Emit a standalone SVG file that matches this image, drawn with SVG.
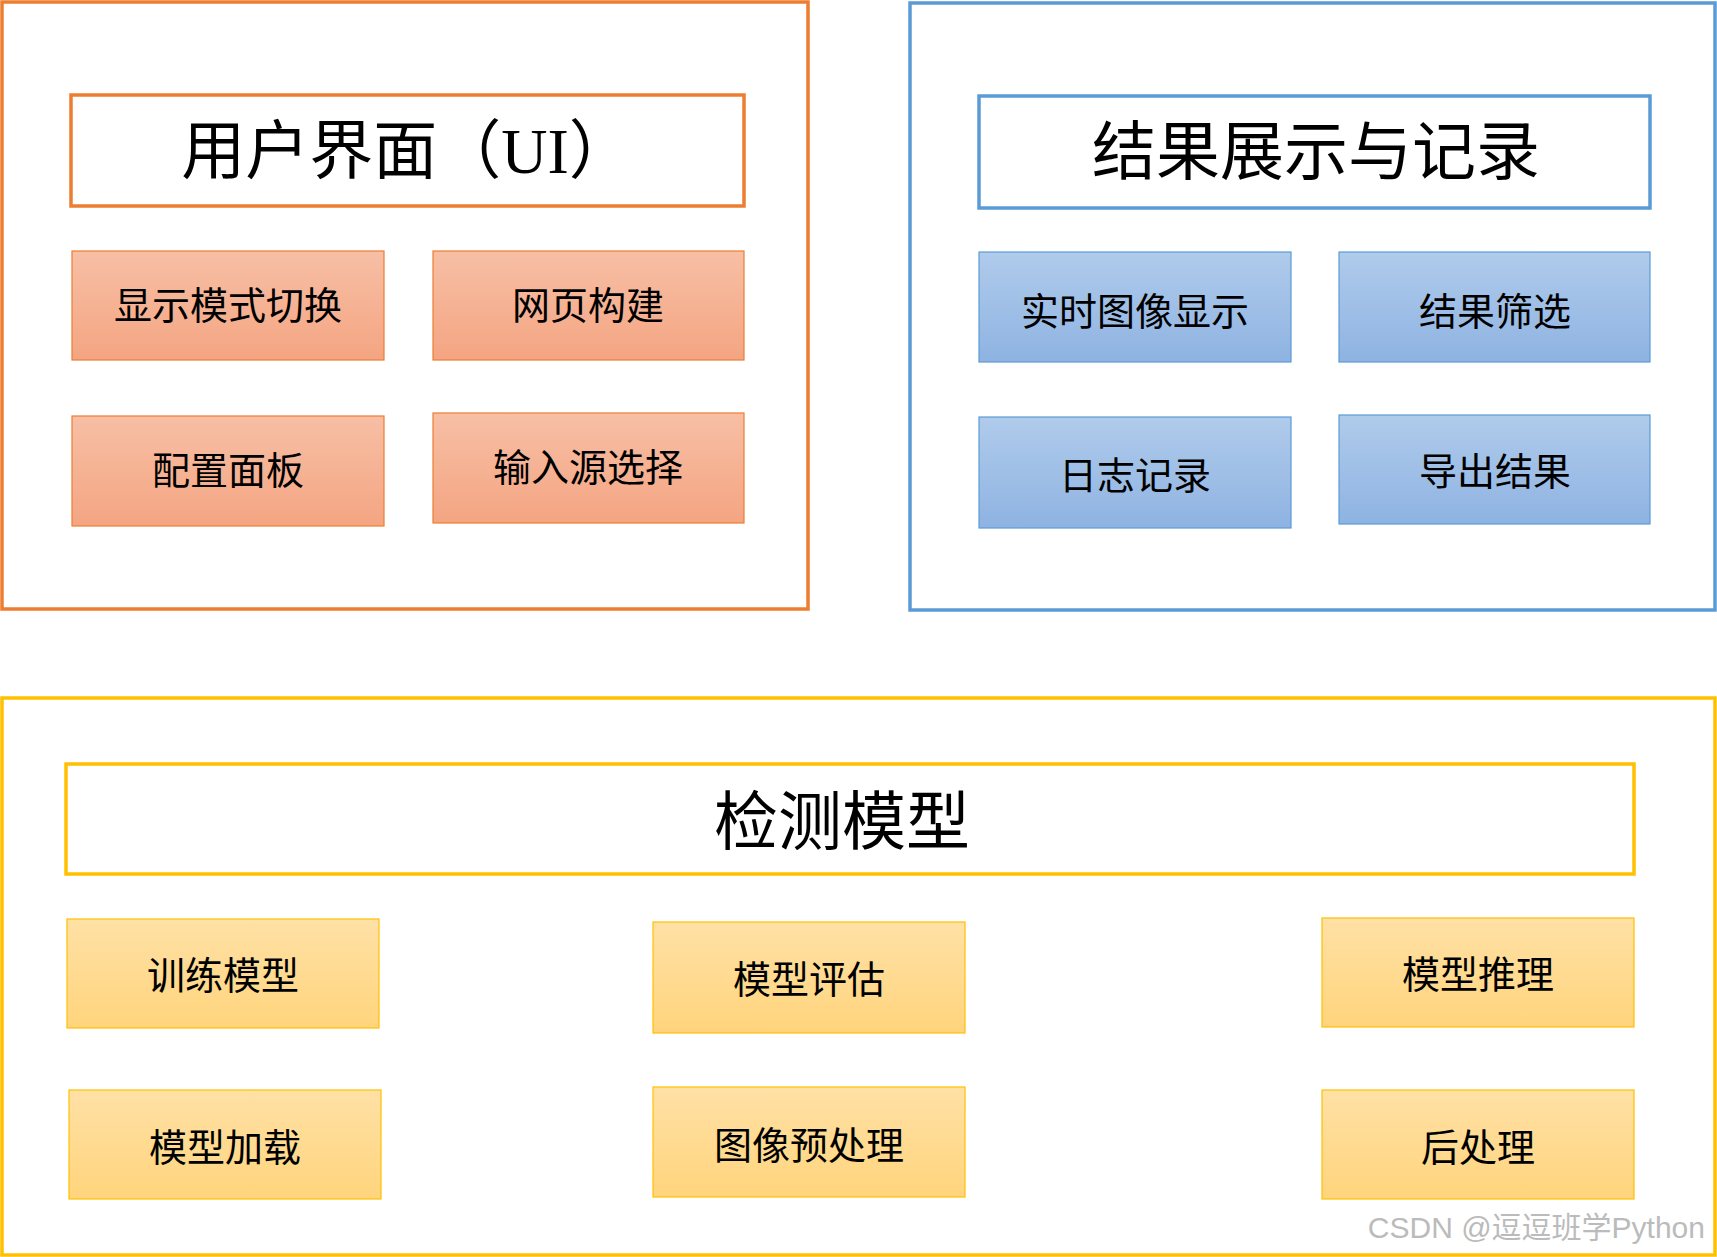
<svg xmlns="http://www.w3.org/2000/svg" width="1717" height="1257" viewBox="0 0 1717 1257">
<defs>
<linearGradient id="go" x1="0" y1="0" x2="0" y2="1"><stop offset="0" stop-color="#F7BFA5"/><stop offset="1" stop-color="#F4A582"/></linearGradient>
<linearGradient id="gb" x1="0" y1="0" x2="0" y2="1"><stop offset="0" stop-color="#B0CBEB"/><stop offset="1" stop-color="#8EB3E2"/></linearGradient>
<linearGradient id="gy" x1="0" y1="0" x2="0" y2="1"><stop offset="0" stop-color="#FFE1A6"/><stop offset="1" stop-color="#FFD47C"/></linearGradient>
</defs>
<style>
text{font-family:"Liberation Serif","Noto Sans CJK SC",serif;text-anchor:middle;dominant-baseline:central;fill:#000}
.t{font-size:64px}
.s{font-size:38px}
.o{stroke:#ED7D31;fill:none}
.b{stroke:#5B9BD5;fill:none}
.y{stroke:#FFC000;fill:none}
.bo{fill:url(#go);stroke:#ED7D31;stroke-width:1.2}
.bb{fill:url(#gb);stroke:#5B9BD5;stroke-width:1.2}
.by{fill:url(#gy);stroke:#FFC000;stroke-width:1.2}
</style>
<rect width="1717" height="1257" fill="#fff"/>
<g id="ui">
<rect class="o" x="2" y="2" width="806" height="607" stroke-width="3.5"/>
<rect class="o" x="71" y="95" width="673" height="111" stroke-width="3.5"/>
<text class="t" x="407" y="151">用户界面（UI）</text>
</g>
<g id="ui1"><rect class="bo" x="72" y="251" width="312" height="109"/><text class="s" x="228" y="306">显示模式切换</text></g>
<g id="ui2"><rect class="bo" x="433" y="251" width="311" height="109"/><text class="s" x="588" y="306">网页构建</text></g>
<g id="ui3"><rect class="bo" x="72" y="416" width="312" height="110"/><text class="s" x="228" y="471">配置面板</text></g>
<g id="ui4"><rect class="bo" x="433" y="413" width="311" height="110"/><text class="s" x="588" y="468">输入源选择</text></g>
<g id="res">
<rect class="b" x="910" y="3" width="805" height="607" stroke-width="3.5"/>
<rect class="b" x="979" y="96" width="671" height="112" stroke-width="3.5"/>
<text class="t" x="1316" y="152">结果展示与记录</text>
</g>
<g id="r1"><rect class="bb" x="979" y="252" width="312" height="110"/><text class="s" x="1135" y="312">实时图像显示</text></g>
<g id="r2"><rect class="bb" x="1339" y="252" width="311" height="110"/><text class="s" x="1495" y="312">结果筛选</text></g>
<g id="r3"><rect class="bb" x="979" y="417" width="312" height="111"/><text class="s" x="1135" y="476">日志记录</text></g>
<g id="r4"><rect class="bb" x="1339" y="415" width="311" height="109"/><text class="s" x="1495" y="472">导出结果</text></g>
<g id="det">
<rect class="y" x="2" y="698" width="1713" height="557" stroke-width="3.5"/>
<rect class="y" x="66" y="764" width="1568" height="110" stroke-width="3.5"/>
<text class="t" x="842" y="822">检测模型</text>
</g>
<g id="d1"><rect class="by" x="67" y="919" width="312" height="109"/><text class="s" x="223" y="976">训练模型</text></g>
<g id="d2"><rect class="by" x="653" y="922" width="312" height="111"/><text class="s" x="809" y="980">模型评估</text></g>
<g id="d3"><rect class="by" x="1322" y="918" width="312" height="109"/><text class="s" x="1478" y="975">模型推理</text></g>
<g id="d4"><rect class="by" x="69" y="1090" width="312" height="109"/><text class="s" x="225" y="1148">模型加载</text></g>
<g id="d5"><rect class="by" x="653" y="1087" width="312" height="110"/><text class="s" x="809" y="1146">图像预处理</text></g>
<g id="d6"><rect class="by" x="1322" y="1090" width="312" height="109"/><text class="s" x="1478" y="1148">后处理</text></g>
<g id="connectors"/>
<text x="1705" y="1227" style="font-family:'Liberation Sans','Noto Sans CJK SC',sans-serif;font-size:30px;text-anchor:end;fill:#bbb">CSDN @逗逗班学Python</text>
</svg>
